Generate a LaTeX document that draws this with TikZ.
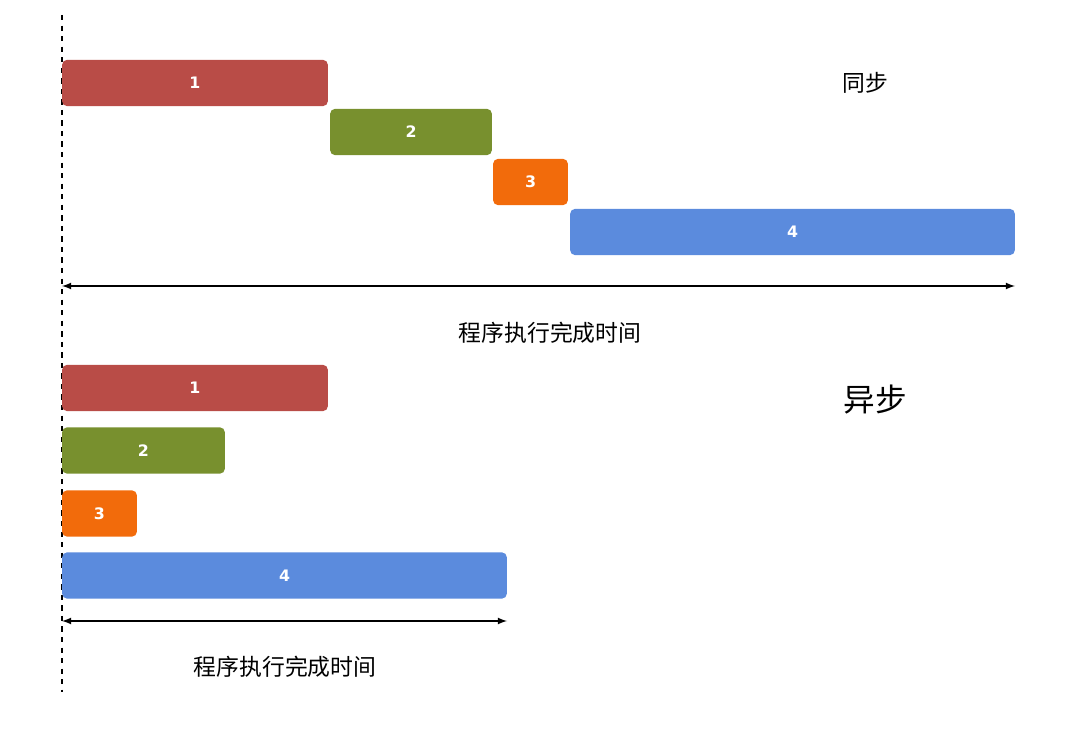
\documentclass[tikz,border=0pt]{standalone}
\usepackage{fontspec}
\setsansfont{DejaVu Sans}
\newfontfamily\cjk{Noto Sans CJK SC}
\usetikzlibrary{positioning}
\definecolor{barred}{HTML}{B94C47}
\definecolor{bargreen}{HTML}{78902E}
\definecolor{barorange}{HTML}{F26B0B}
\definecolor{barblue}{HTML}{5B8BDD}
\tikzset{
  taskbar/.style={rounded corners=3pt, minimum height=0.93cm, inner sep=0pt,
    text=white, font=\sffamily\bfseries\small},
  timeline/.style={<->, >=latex, thick},
  caption/.style={font=\cjk\fontsize{13}{13}\selectfont}
}
\begin{document}
\begin{tikzpicture}[x=0.02cm, y=-0.02cm]
\useasboundingbox (0,0) rectangle (1080,743);
% start line
\draw[dashed, thick] (62,15) -- (62,692);
% synchronous
\node[taskbar, fill=barred, minimum width=5.32cm] (s1) at (195,83) {1};
\node[taskbar, fill=bargreen, minimum width=3.24cm] (s2) at (411,132) {2};
\node[taskbar, fill=barorange, minimum width=1.5cm] (s3) at (530.5,182) {3};
\node[taskbar, fill=barblue, minimum width=8.9cm] (s4) at (792.5,232) {4};
\node[caption] (sync) at (865,83) {同步};
\coordinate (sa) at (62,286);
\coordinate (sb) at (1015,286);
\draw[timeline] (sa) -- (sb);
\node[caption] (stime) at (550,333) {程序执行完成时间};
% asynchronous
\node[taskbar, fill=barred, minimum width=5.32cm] (a1) at (195,388) {1};
\node[taskbar, fill=bargreen, minimum width=3.26cm] (a2) at (143.5,450.5) {2};
\node[taskbar, fill=barorange, minimum width=1.5cm] (a3) at (99.5,513.5) {3};
\node[taskbar, fill=barblue, minimum width=8.9cm] (a4) at (284.5,575.5) {4};
\node[caption, font=\cjk\fontsize{18}{18}\selectfont] (async) at (875,400) {异步};
\coordinate (aa) at (62,621);
\coordinate (ab) at (507,621);
\draw[timeline] (aa) -- (ab);
\node[caption] (atime) at (285,667) {程序执行完成时间};
\end{tikzpicture}
\end{document}
